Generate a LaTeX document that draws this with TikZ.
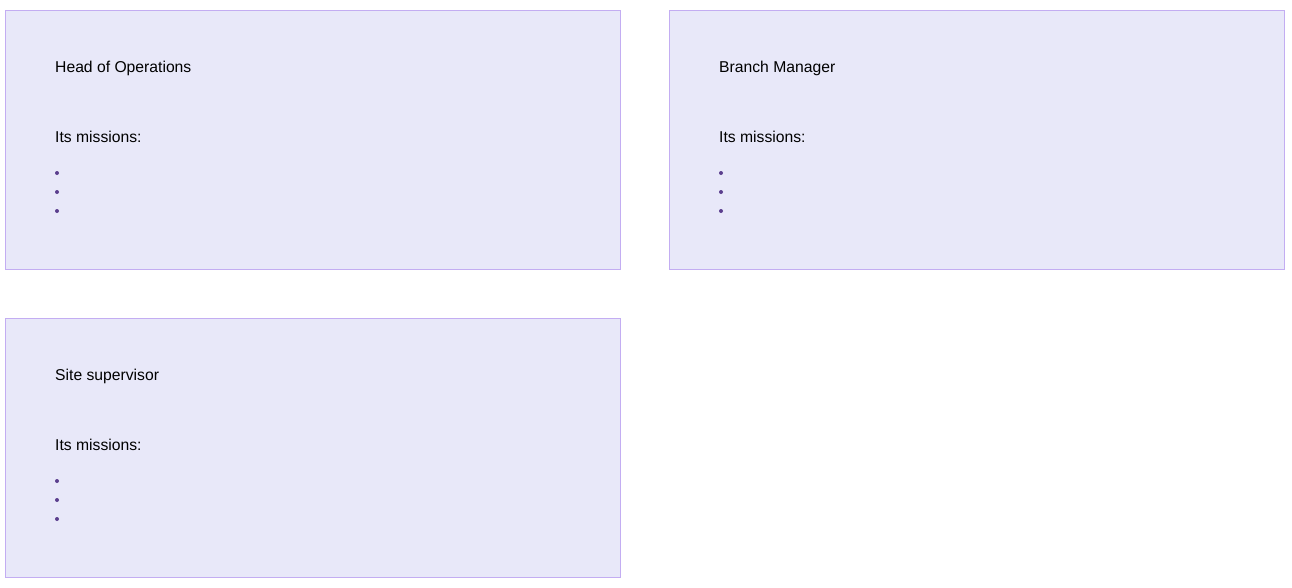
\documentclass[tikz,border=0pt]{standalone}
\usepackage{fontspec}
\setmainfont{Liberation Sans}
\definecolor{boxfill}{HTML}{E8E8F9}
\definecolor{boxline}{HTML}{C3ADF2}
\definecolor{bul}{HTML}{5B3E8E}
\begin{document}
\begin{tikzpicture}[x=1pt,y=-1pt,
  card/.style={draw=boxline,fill=boxfill,line width=1pt},
  lbl/.style={anchor=base west,inner sep=0pt,font=\fontsize{15.7}{18}\selectfont,text=black},
  bdot/.style={circle,fill=bul,inner sep=0pt,minimum size=4pt}]
\useasboundingbox (0,0) rectangle (1292,587);
\foreach \n/\x/\y/\t in {a/5/10/Head of Operations, b/669/10/Branch Manager, c/5/318/Site supervisor}{
  \draw[card] (\x,\y) rectangle ++(615,259);
  \node[lbl] (\n title) at (\x+50,\y+62) {\t};
  \node[lbl] (\n miss) at (\x+50,\y+132) {Its missions:};
  \node[bdot] (\n b1) at (\x+52,\y+163) {};
  \node[bdot] (\n b2) at (\x+52,\y+182) {};
  \node[bdot] (\n b3) at (\x+52,\y+201) {};
}
\end{tikzpicture}
\end{document}
